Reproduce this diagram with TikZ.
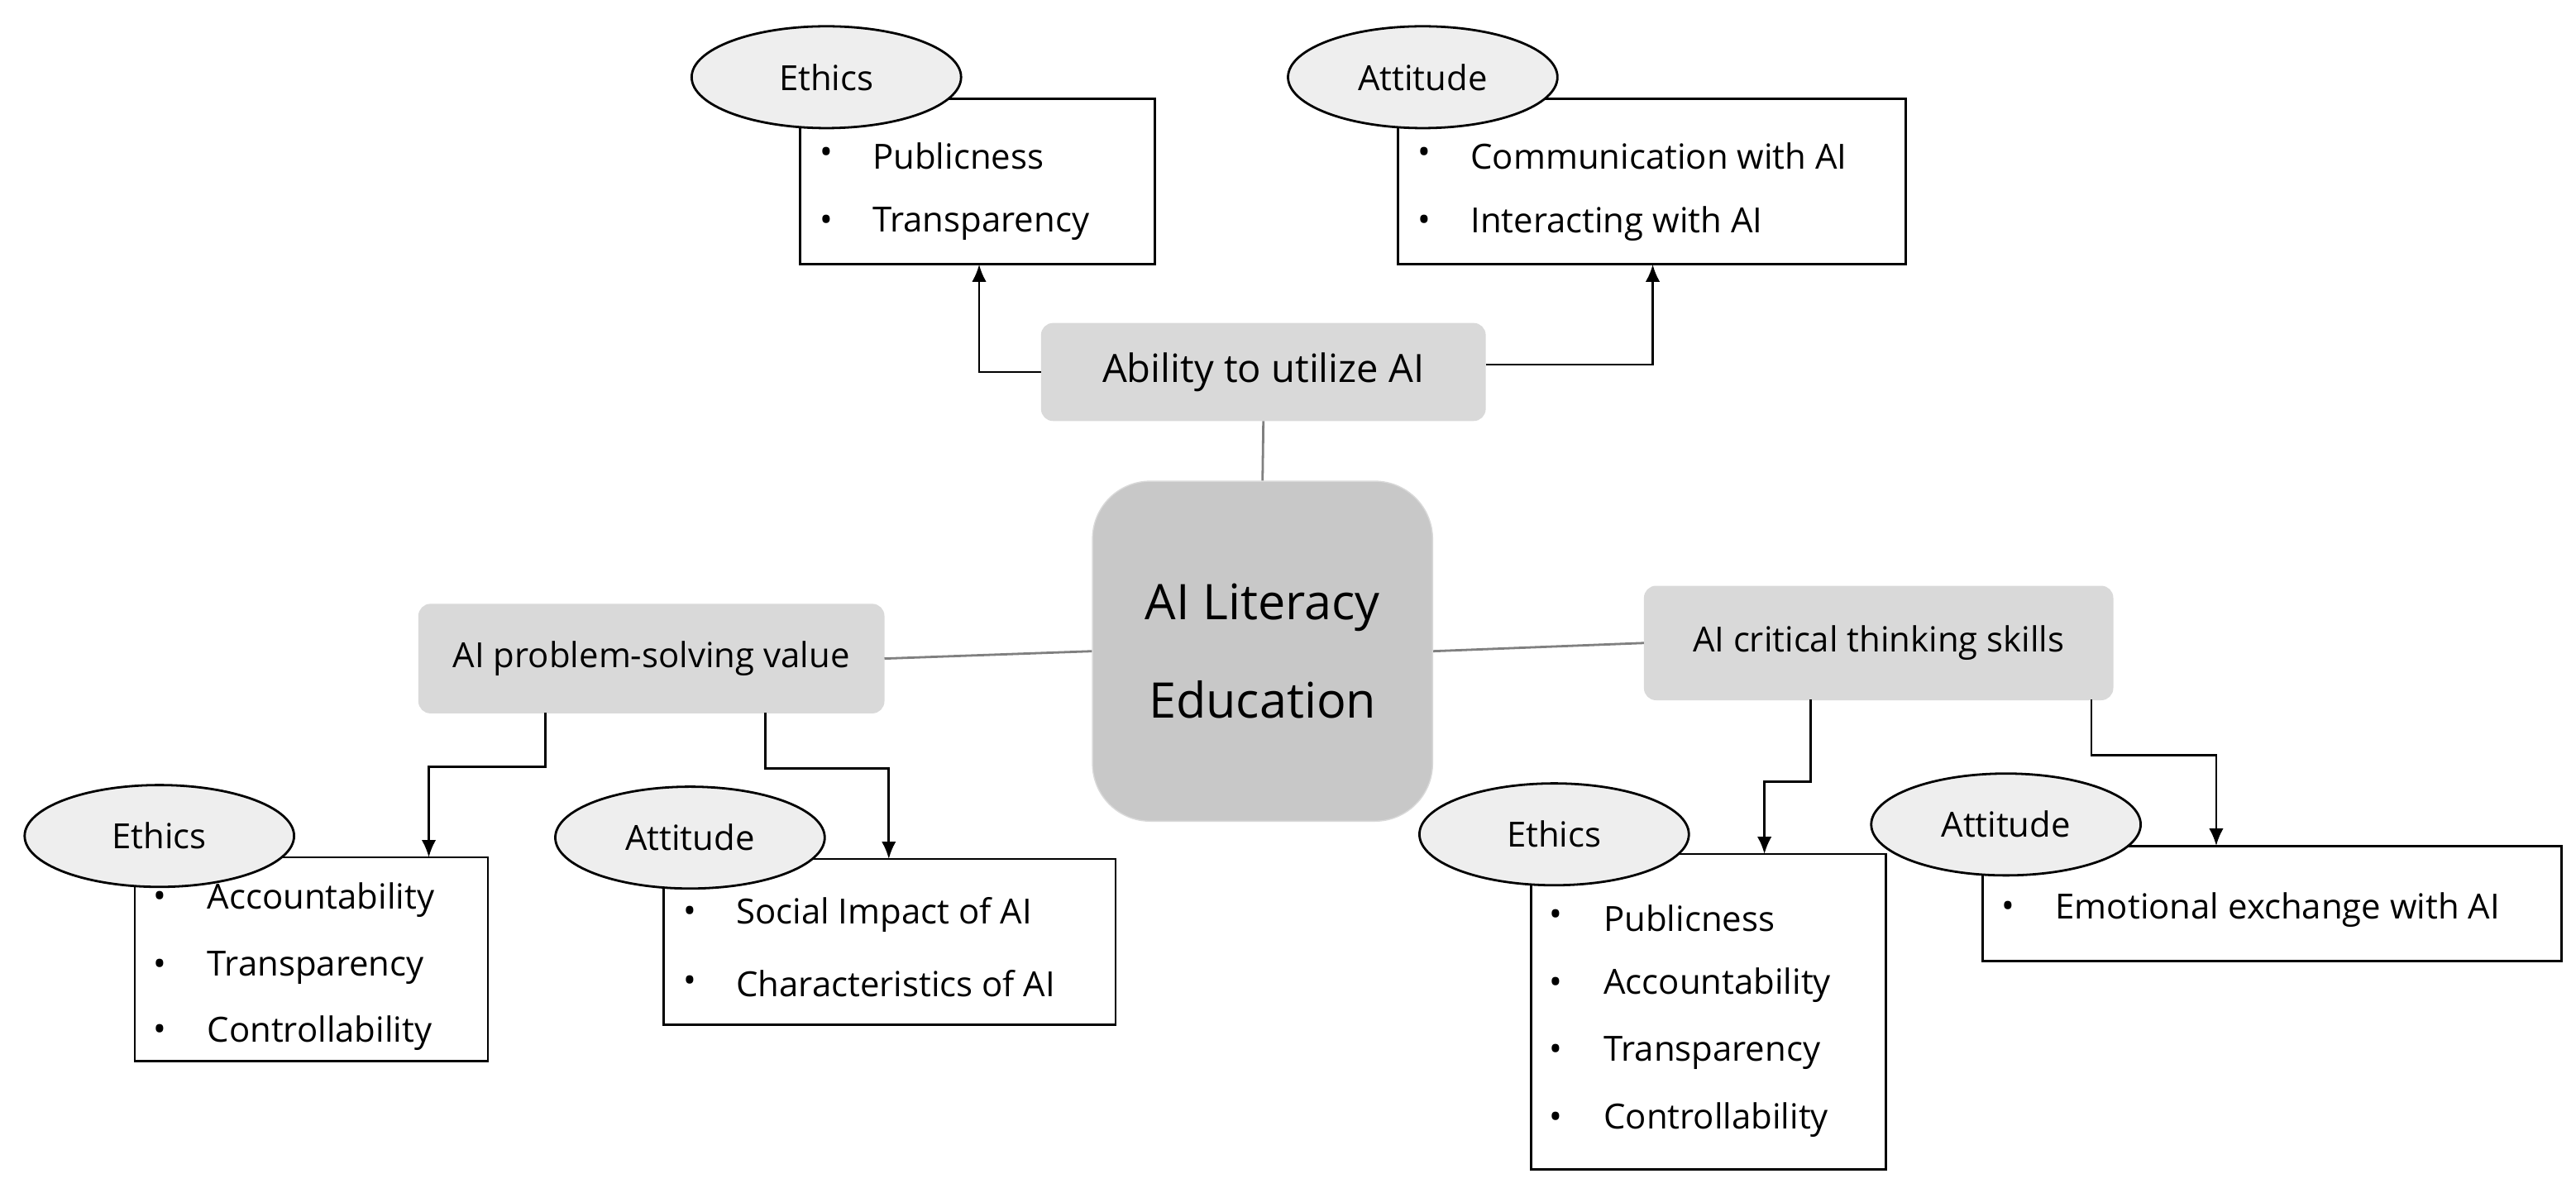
\documentclass[tikz,border=0pt]{standalone}
\usepackage{fontspec}
\setmainfont{Open Sans}
\usetikzlibrary{arrows.meta,shapes.geometric}
\definecolor{cgray}{HTML}{C8C8C8}
\definecolor{bgray}{HTML}{D9D9D9}
\definecolor{egray}{HTML}{EEEEEE}
\begin{document}
\begin{tikzpicture}[x=0.02cm,y=-0.02cm,
  cat/.style={draw=white!85!black,fill=bgray,rounded corners=4pt,font=\fontsize{13.5}{16}\selectfont},
  lst/.style={draw,thick,fill=white},
  ell/.style={draw,thick,fill=egray,ellipse,font=\fontsize{12}{14}\selectfont},
  itm/.style={anchor=west,font=\fontsize{12}{14}\selectfont},
  arr/.style={thick,-{Latex[length=6pt,width=5pt]}},
  gl/.style={thick,draw=gray}]
\useasboundingbox (0,0) rectangle (1568,723);
% center
\node[draw=white!85!black,fill=cgray,rounded corners=20pt,minimum width=207*0.02cm,minimum height=207*0.02cm,align=center,font=\fontsize{17}{34}\selectfont] (c) at (768.5,396.5) {AI Literacy\\Education};
\node[cat,minimum width=270*0.02cm,minimum height=59*0.02cm] (ab) at (769,226.5) {Ability to utilize AI};
\node[cat,minimum width=283*0.02cm,minimum height=66*0.02cm,font=\fontsize{12}{14}\selectfont] (ps) at (396.5,401) {AI problem-solving value};
\node[cat,minimum width=285*0.02cm,minimum height=69*0.02cm,font=\fontsize{12}{14}\selectfont] (ct) at (1143.5,391.5) {AI critical thinking skills};
\draw[gl] (c.north) -- (ab.south);
\draw[gl] (ps.east) -- (c.west);
\draw[gl] (c.east) -- (ct.west);
% boxes
\path[lst] (487,60) rectangle (703,161); \coordinate (b1) at (596,161);
\path[lst] (851,60) rectangle (1160,161); \coordinate (b2) at (1006,161);
\path[lst] (82,522) rectangle (297,646); \coordinate (b3) at (261,522);
\path[lst] (404,523) rectangle (679,624); \coordinate (b4) at (541,523);
\path[lst] (932,520) rectangle (1148,712); \coordinate (b5) at (1074,520);
\path[lst] (1207,515) rectangle (1559,585); \coordinate (b6) at (1349,515);
% ellipses
\node[ell,minimum width=164*0.02cm,minimum height=62*0.02cm] (e1) at (503,47) {Ethics};
\node[ell,minimum width=164*0.02cm,minimum height=62*0.02cm] (e2) at (866,47) {Attitude};
\node[ell,minimum width=164*0.02cm,minimum height=62*0.02cm] (e3) at (97,509) {Ethics};
\node[ell,minimum width=164*0.02cm,minimum height=62*0.02cm] (e4) at (420,510) {Attitude};
\node[ell,minimum width=164*0.02cm,minimum height=62*0.02cm] (e5) at (946,508) {Ethics};
\node[ell,minimum width=164*0.02cm,minimum height=62*0.02cm] (e6) at (1221,502) {Attitude};
% items
\newcommand{\itemat}[4]{\node[itm] at (#1,#3) {•}; \node[itm] at (#2,#3) {#4};}
\itemat{493}{525}{95}{Publicness}
\itemat{493}{525}{136}{Transparency}
\itemat{857}{889}{95}{Communication with AI}
\itemat{857}{889}{136}{Interacting with AI}
\itemat{87}{120}{548}{Accountability}
\itemat{87}{120}{589}{Transparency}
\itemat{87}{120}{629}{Controllability}
\itemat{410}{442}{557}{Social Impact of AI}
\itemat{410}{442}{599}{Characteristics of AI}
\itemat{937}{970}{559}{Publicness}
\itemat{937}{970}{600}{Accountability}
\itemat{937}{970}{641}{Transparency}
\itemat{937}{970}{682}{Controllability}
\itemat{1212}{1245}{554}{Emotional exchange with AI}
% arrows
\draw[arr] (ab.west) -- (596,226.5) -- (b1);
\draw[arr] (ab.east |- 0,222) -- (1006,222) -- (b2);
\draw[arr] (332,434) -- (332,467) -- (261,467) -- (b3);
\draw[arr] (466,434) -- (466,468) -- (541,468) -- (b4);
\draw[arr] (1102,426) -- (1102,476) -- (1074,476) -- (b5);
\draw[arr] (1273,426) -- (1273,460) -- (1349,460) -- (b6);
\end{tikzpicture}
\end{document}
